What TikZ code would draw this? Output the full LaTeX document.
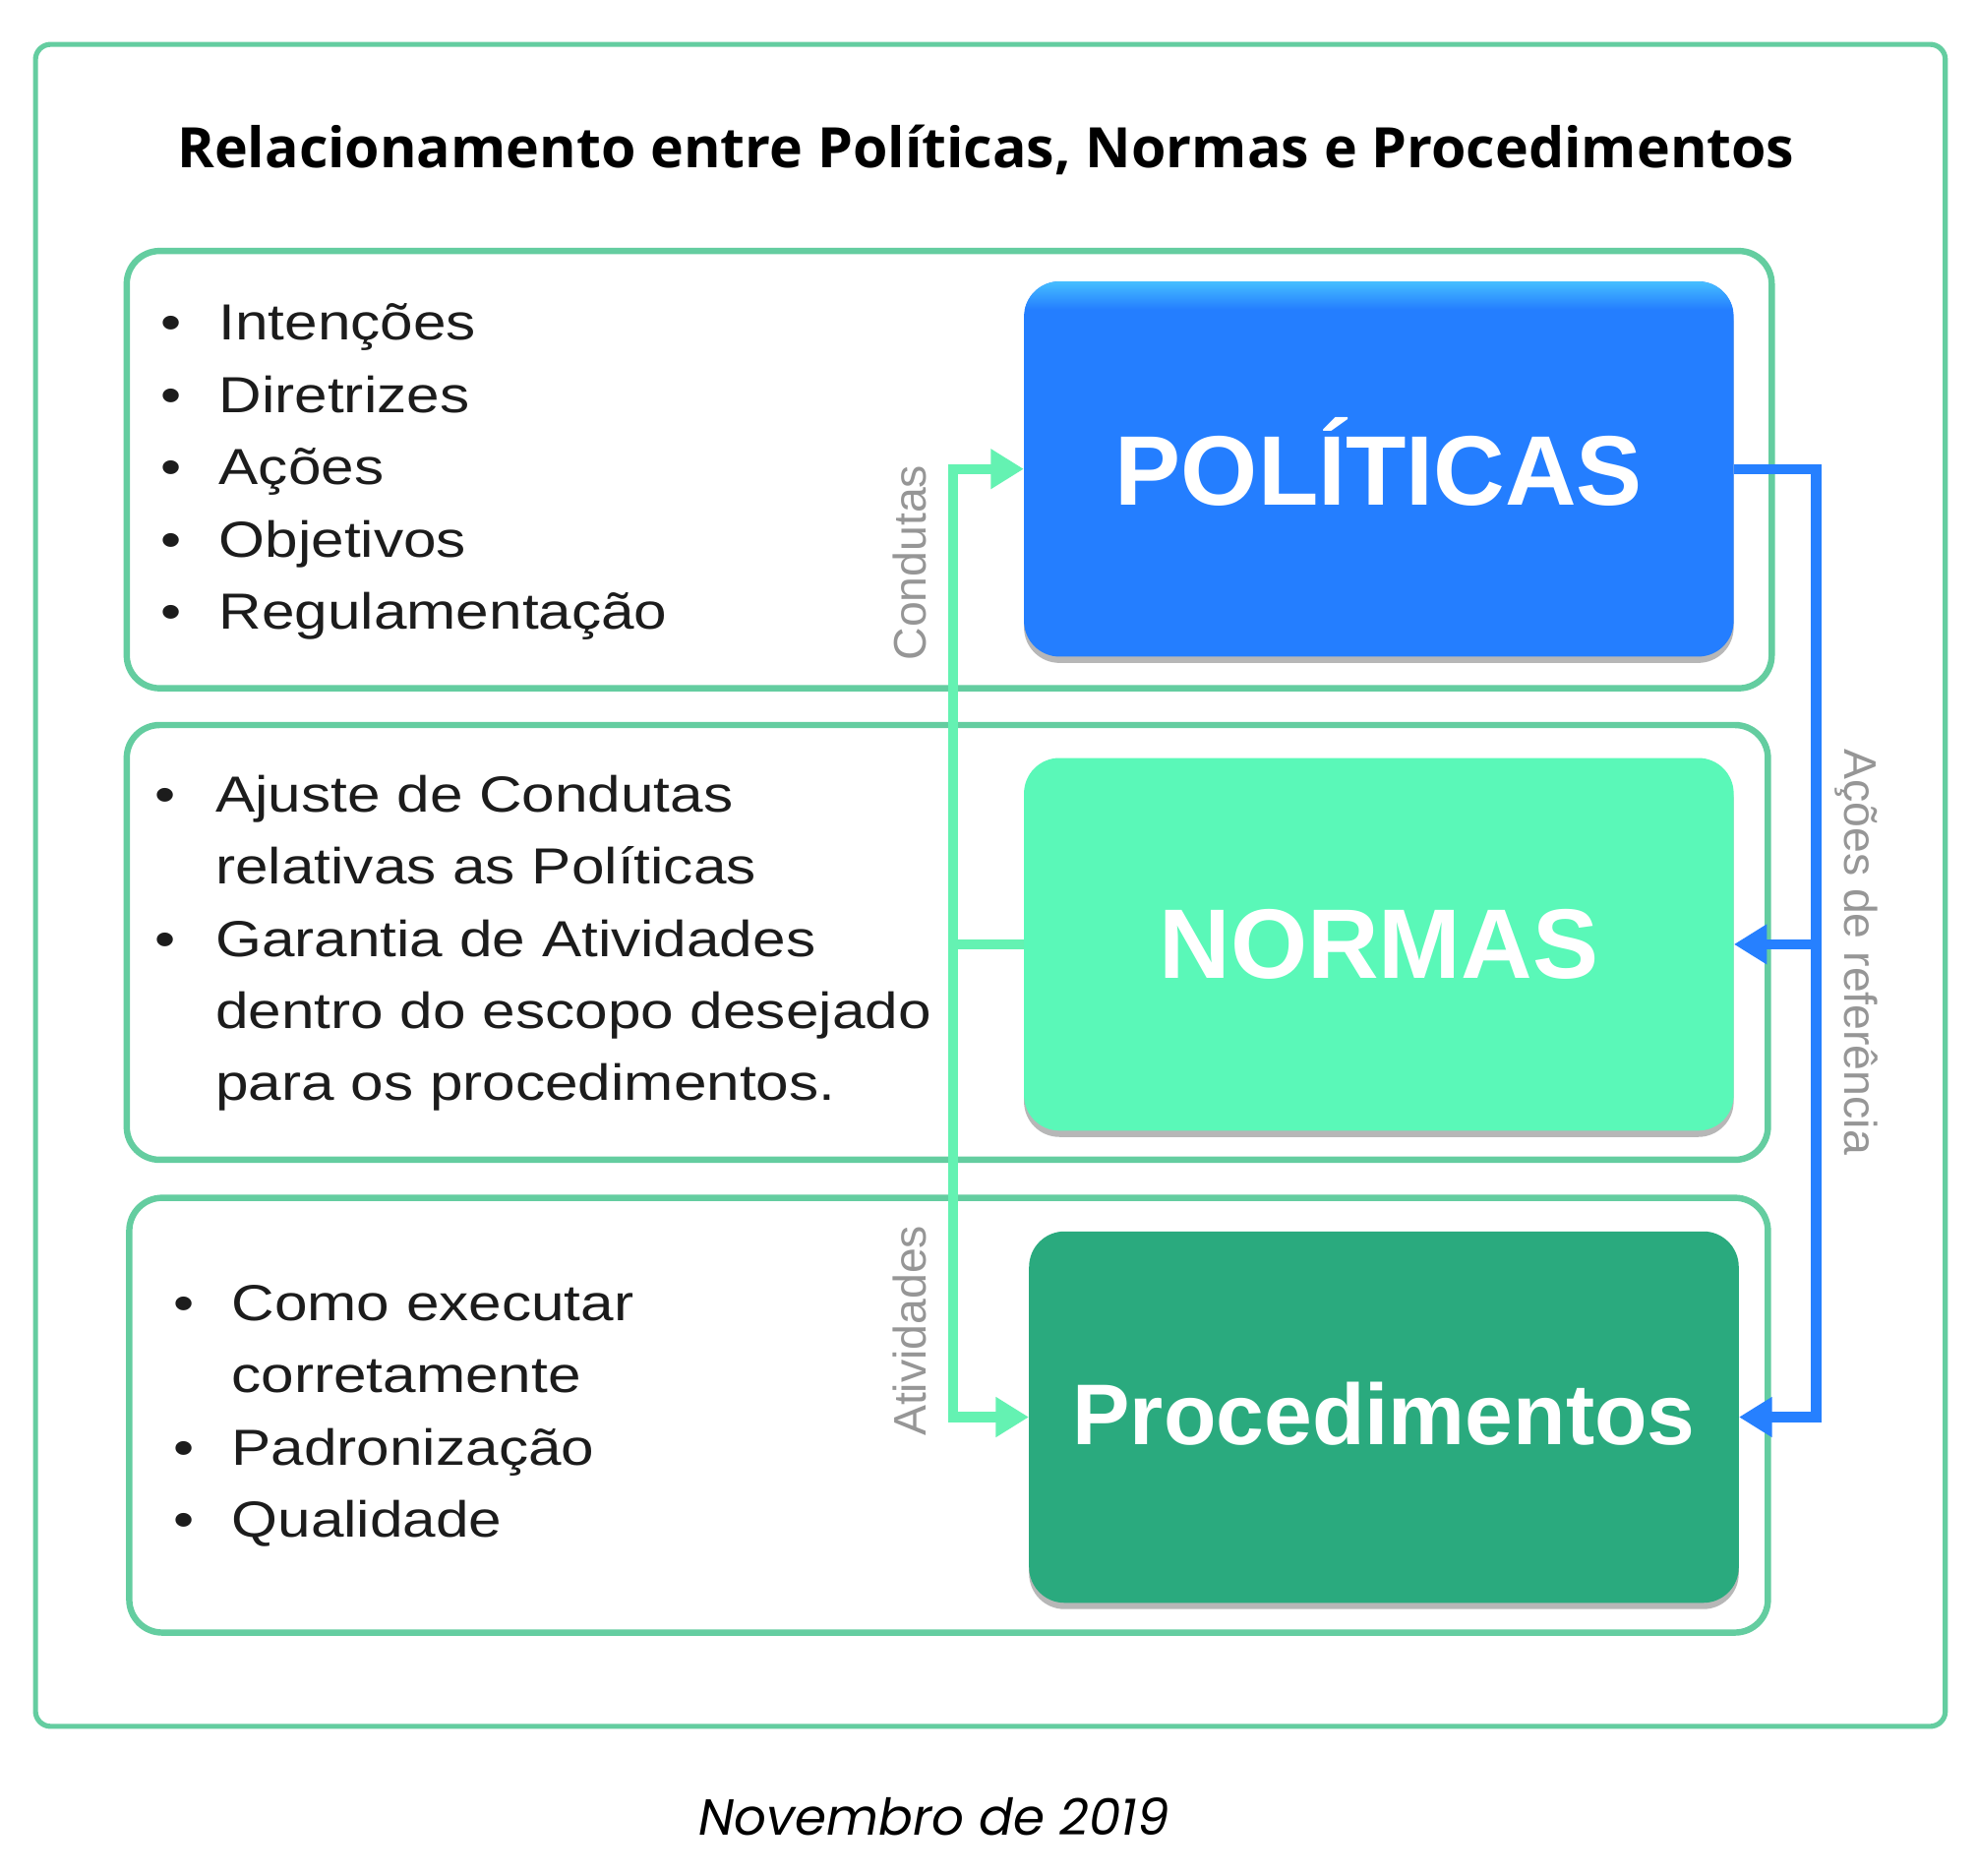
\documentclass[tikz,border=0pt]{standalone}
\usepackage{fontspec}
\setmainfont{Liberation Sans}
\newfontfamily\titlefont{Open Sans}
\newfontfamily\capfont{Poppins}
\usetikzlibrary{arrows.meta,shadows}
\definecolor{framegreen}{RGB}{100,205,160}
\definecolor{polblue}{RGB}{36,126,255}
\definecolor{polcyan}{RGB}{70,190,255}
\definecolor{normint}{RGB}{90,248,184}
\definecolor{procgreen}{RGB}{42,170,126}
\definecolor{linkmint}{RGB}{100,242,178}
\definecolor{linkblue}{RGB}{38,128,255}
\definecolor{labelgray}{RGB}{150,150,150}
\definecolor{txtcol}{RGB}{28,28,28}
\begin{document}
\begin{tikzpicture}[x=1pt,y=-1pt,
  outerframe/.style={draw=framegreen, line width=4pt, rounded corners=12pt},
  rowframe/.style={draw=framegreen, line width=5pt, rounded corners=26pt},
  mainbox/.style={rounded corners=28pt, minimum width=560pt, inner sep=0pt, text=white,
    drop shadow={shadow xshift=0pt, shadow yshift=-5pt, opacity=0.35, fill=black!80}},
  boxfont/.style={font=\bfseries\fontsize{78}{80}\selectfont},
  listtext/.style={anchor=west, inner sep=0pt, text=txtcol, font=\fontsize{40}{57}\selectfont},
  sidelabel/.style={inner sep=0pt, text=labelgray, font=\fontsize{36}{40}\selectfont},
  mintline/.style={draw=linkmint, line width=8pt, line join=miter},
  blueline/.style={draw=linkblue, line width=8pt, line join=miter},
  tip/.style={-{Triangle[length=26pt,width=30pt]}}
]
\useasboundingbox[fill=white] (0,0) rectangle (1560,1480);

% outer frame
\draw[outerframe] (28,35) rectangle (1535,1362);

% title
\node (title) at (778,118) {\titlefont\bfseries\fontsize{44}{50}\selectfont\scalebox{1.01}[1]{Relacionamento entre Políticas, Normas e Procedimentos}};

% row frames
\draw[rowframe] (100,198) rectangle (1398,543);
\draw[rowframe] (100,572) rectangle (1395,915);
\draw[rowframe] (102,945) rectangle (1395,1288);

% main boxes
\node[mainbox, fill=polblue, minimum height=296pt] (pol) at (1088,370) {};
\begin{scope}
  \clip[rounded corners=28pt] (808,222) rectangle (1368,518);
  \shade[top color=polcyan, bottom color=polblue] (808,222) rectangle (1368,244);
\end{scope}
\node[boxfont, text=white, inner sep=0pt] (poltext) at (1088,364) {POLÍTICAS};
\node[mainbox, boxfont, fill=normint, minimum height=294pt] (nor) at (1088,745) {NORMAS};
\node[mainbox, font=\bfseries\fontsize{68}{70}\selectfont, fill=procgreen, minimum height=293pt] (pro) at (1092,1118) {\raisebox{6pt}{Procedimentos}};

% left lists
\node[listtext] (list1) at (127,371) {\scalebox{1.17}[1]{\begin{tabular}{@{}l@{\hspace{25pt}}l@{}}
\textbullet & Intenções\\
\textbullet & Diretrizes\\
\textbullet & Ações\\
\textbullet & Objetivos\\
\textbullet & Regulamentação
\end{tabular}}};
\node[listtext] (list2) at (122,743) {\scalebox{1.17}[1]{\begin{tabular}{@{}l@{\hspace{27pt}}l@{}}
\textbullet & Ajuste de Condutas\\
 & relativas as Políticas\\
\textbullet & Garantia de Atividades\\
 & dentro do escopo desejado\\
 & para os procedimentos.
\end{tabular}}};
\node[listtext] (list3) at (137,1116) {\scalebox{1.17}[1]{\begin{tabular}{@{}l@{\hspace{25pt}}l@{}}
\textbullet & Como executar\\
 & corretamente\\
\textbullet & Padronização\\
\textbullet & Qualidade
\end{tabular}}};

% mint connectors
\coordinate (gj) at (752,745);
\coordinate (gt) at (752,370);
\coordinate (gb) at (752,1118);
\draw[mintline] (nor.west) -- (gj);
\draw[mintline, tip] (gj) -- (gt) -- (pol.west);
\draw[mintline, tip] (gj) -- (gb) -- (pro.west);

% blue connectors
\coordinate (bt) at (1433,370);
\coordinate (bm) at (1433,745);
\coordinate (bb) at (1433,1118);
\draw[blueline, tip] (pol.east) -- (bt) -- (bb) -- (pro.east);
\draw[blueline, tip] (bm) -- (nor.east);

% side labels
\node[sidelabel, rotate=90] (cond) at (718,444) {Condutas};
\node[sidelabel, rotate=90] (ativ) at (718,1050) {Atividades};
\node[sidelabel, rotate=-90] (acref) at (1465,751) {Ações de referência};

% caption
\node (cap) at (737,1433) {\capfont\itshape\fontsize{40}{44}\selectfont Novembro de 2019};
\end{tikzpicture}
\end{document}
